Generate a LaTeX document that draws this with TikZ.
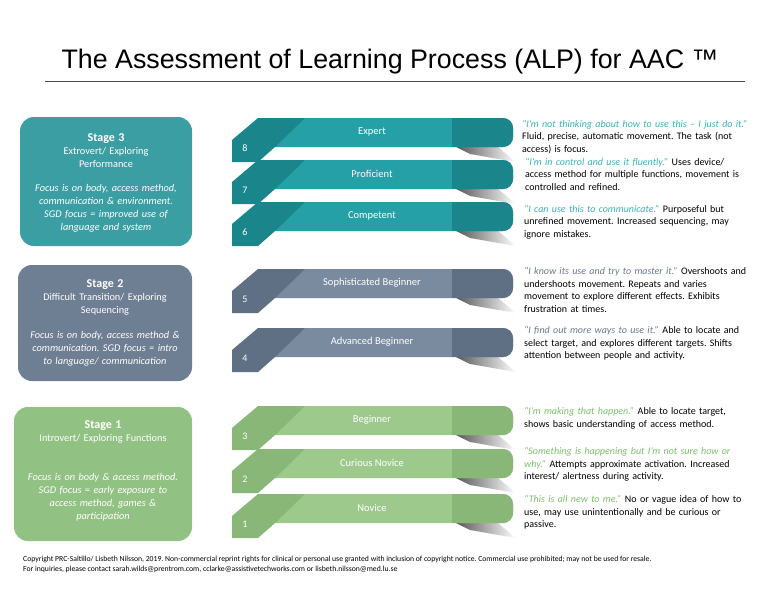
\documentclass[tikz,border=0pt]{standalone}
\usepackage{fontspec}
\setmainfont{Carlito}
\newfontfamily\titlefont{Liberation Sans}
\definecolor{tealM}{HTML}{24A0A6}
\definecolor{tealD}{HTML}{1A868C}
\definecolor{tealB}{HTML}{3B9EA3}
\definecolor{tealQ}{HTML}{3AB3B8}
\definecolor{greyM}{HTML}{7A8BA0}
\definecolor{greyD}{HTML}{5F6F84}
\definecolor{greyB}{HTML}{6E7E93}
\definecolor{greyQ}{HTML}{6A7A8F}
\definecolor{greenM}{HTML}{9DC98D}
\definecolor{greenD}{HTML}{88B778}
\definecolor{greenB}{HTML}{92C283}
\definecolor{greenQ}{HTML}{7DBF6B}
\tikzset{
  stagebox/.style={rounded corners=14pt, inner sep=0pt, align=center, text=white, font=\fontsize{10.3}{13}\selectfont},
  desc/.style={anchor=north west, text width=240pt, inner sep=0pt, align=left, font=\fontsize{10}{12.6}\selectfont},
  barlabel/.style={text=white, font=\fontsize{10.5}{12}\selectfont},
  numlabel/.style={text=white, font=\fontsize{10}{12}\selectfont}
}
\newcommand\myribbon[6]{%
  \begin{scope}[shift={(0,#1)}]
    \shade[left color=black!70, right color=white] (452,27) -- (498,29) -- (516,44) -- (470,36) -- cycle;
    \fill[#2, rounded corners=10pt] (262,0) rectangle (513,29);
    \fill[#3, rounded corners=10pt] (452,0) rectangle (513,29);
    \fill[#3] (452,0) rectangle (470,29);
    \fill[#3] (258,0) -- (305,0) -- (275,29) -- (258,44) -- (232,44) -- (232,22) -- cycle;
    \node[barlabel] (#6) at (372,14) {#4};
    \node[numlabel] (n#6) at (245,30) {#5};
  \end{scope}}
\begin{document}
\hyphenpenalty=10000 \exhyphenpenalty=10000 \frenchspacing
\begin{tikzpicture}[x=1pt,y=-1pt]
\useasboundingbox (0,0) rectangle (768,594);
\fill[white] (0,0) rectangle (768,594);
\node[font=\titlefont\fontsize{26.8}{30}\selectfont] (title) at (390,62) {The Assessment of Learning Process (ALP) for AAC ™};
\coordinate (la) at (45,81); \coordinate (lb) at (745,81);
\draw[black!70, line width=0.8pt] (la) -- (lb);

% stage boxes
\node[stagebox, fill=tealB, minimum width=172pt, minimum height=129pt] (s3) at (106,181.5) {};
\node[stagebox, text width=168pt] at (106,151) {{\fontsize{12}{14}\selectfont\bfseries Stage 3}\\ Extrovert/ Exploring\\ Performance};
\node[stagebox, text width=168pt] at (106,208) {\itshape Focus is on body, access method,\\ communication \& environment.\\ SGD focus = improved use of\\ language and system};

\node[stagebox, fill=greyB, minimum width=174pt, minimum height=116pt] (s2) at (105,323) {};
\node[stagebox, text width=168pt] at (105,297) {{\fontsize{12}{14}\selectfont\bfseries Stage 2}\\ Difficult Transition/ Exploring\\ Sequencing};
\node[stagebox, text width=168pt] at (105,349) {\itshape Focus is on body, access method \&\\ communication. SGD focus = intro\\ to language/ communication};

\node[stagebox, fill=greenB, minimum width=178pt, minimum height=134pt] (s1) at (103,474) {};
\node[stagebox, text width=168pt] at (103,432) {{\fontsize{12}{14}\selectfont\bfseries Stage 1}\\ Introvert/ Exploring Functions};
\node[stagebox, text width=168pt] at (103,497) {\itshape Focus is on body \& access method.\\ SGD focus = early exposure to\\ access method, games \&\\ participation};

% ribbons
\myribbon{118}{tealM}{tealD}{Expert}{8}{r8}
\myribbon{160}{tealM}{tealD}{Proficient}{7}{r7}
\myribbon{202}{tealM}{tealD}{Competent}{6}{r6}
\myribbon{269}{greyM}{greyD}{Sophisticated Beginner}{5}{r5}
\myribbon{328}{greyM}{greyD}{Advanced Beginner}{4}{r4}
\myribbon{406}{greenM}{greenD}{Beginner}{3}{r3}
\myribbon{449}{greenM}{greenD}{Curious Novice}{2}{r2}
\myribbon{494}{greenM}{greenD}{Novice}{1}{r1}

% descriptions
\node[desc] (t8) at (522,120) {\textcolor{tealQ}{\itshape “I’m not thinking about how to use this – I just do it.”}\\ Fluid, precise, automatic movement. The task (not\\ access) is focus.};
\node[desc] (t7) at (525,158) {\textcolor{tealQ}{\itshape “I’m in control and use it fluently.”} Uses device/\\ access method for multiple functions, movement is\\ controlled and refined.};
\node[desc] (t6) at (524,205) {\textcolor{tealQ}{\itshape “I can use this to communicate.”} Purposeful but\\ unrefined movement. Increased sequencing, may\\ ignore mistakes.};
\node[desc] (t5) at (524,267) {\textcolor{greyQ}{\itshape “I know its use and try to master it.”} Overshoots and\\ undershoots movement. Repeats and varies\\ movement to explore different effects. Exhibits\\ frustration at times.};
\node[desc] (t4) at (524,326) {\textcolor{greyQ}{\itshape “I find out more ways to use it.”} Able to locate and\\ select target, and explores different targets. Shifts\\ attention between people and activity.};
\node[desc] (t3) at (524,407) {\textcolor{greenQ}{\itshape “I’m making that happen.”} Able to locate target,\\ shows basic understanding of access method.};
\node[desc] (t2) at (524,447) {\textcolor{greenQ}{\itshape “Something is happening but I’m not sure how or\\ why.”} Attempts approximate activation. Increased\\ interest/ alertness during activity.};
\node[desc] (t1) at (524,495) {\textcolor{greenQ}{\itshape “This is all new to me.”} No or vague idea of how to\\ use, may use unintentionally and be curious or\\ passive.};

% footer
\node[anchor=north west, inner sep=0pt, align=left, font=\fontsize{7.7}{9.5}\selectfont] (foot) at (23,556) {Copyright PRC-Saltillo/ Lisbeth Nilsson, 2019. Non-commercial reprint rights for clinical or personal use granted with inclusion of copyright notice. Commercial use prohibited; may not be used for resale.\\ For inquiries, please contact sarah.wilds@prentrom.com, cclarke@assistivetechworks.com or lisbeth.nilsson@med.lu.se};
\end{tikzpicture}
\end{document}
